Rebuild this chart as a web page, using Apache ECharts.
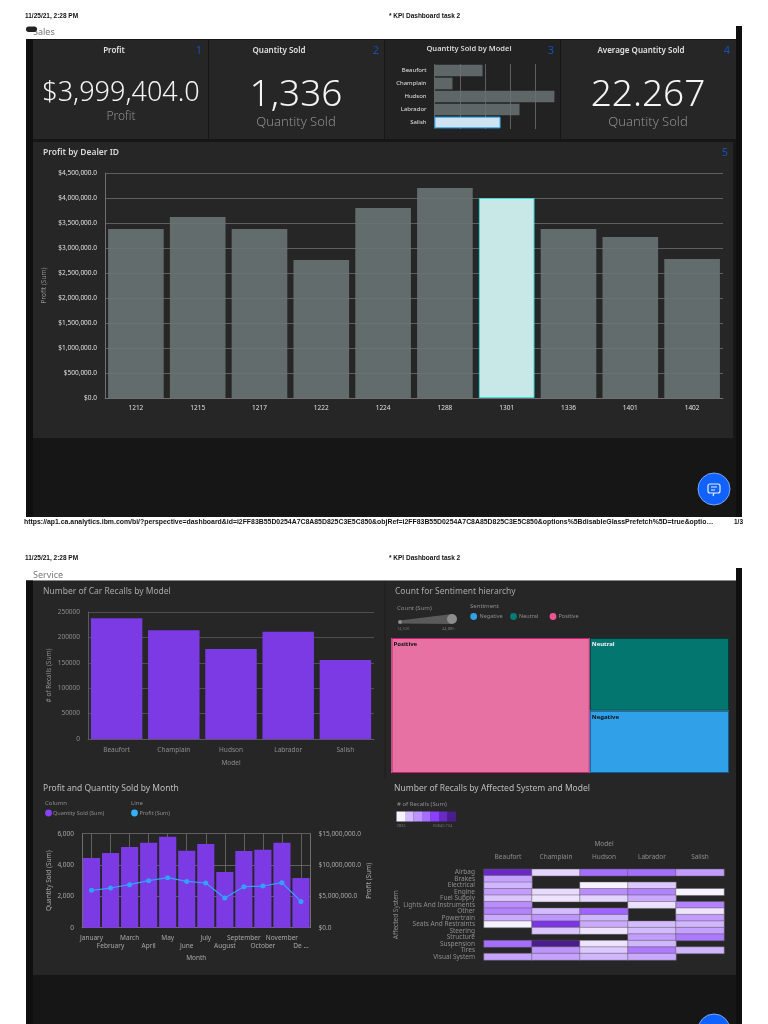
<!DOCTYPE html>
<html><head><meta charset="utf-8">
<style>html,body{margin:0;padding:0;background:#fff}#c{width:768px;height:1024px}</style>
<script src="https://cdn.jsdelivr.net/npm/echarts@6/dist/echarts.min.js"></script></head>
<body><div id="c"></div>
<script>
const models = ['Beaufort','Champlain','Hudson','Labrador','Salish'];
const qtyByModel = [190,71,474,336,261];
const dealers = ['1212','1215','1217','1222','1224','1288','1301','1336','1401','1402'];
const profitByDealer = [3380000,3620000,3380000,2760000,3800000,4200000,4000000,3380000,3220000,2780000];
const recallsByModel = [237600,214000,177000,211000,155500];
const months = ['January','February','March','April','May','June','July','August','September','October','November','De ...'];
const qtyByMonth = [4447,4766,5149,5426,5809,4915,5340,3553,4894,4979,5426,3170];
const profitByMonth = [5960000,6330000,6860000,7500000,7980000,7390000,7130000,4730000,6540000,6650000,7180000,4200000];
const sentiments = ['Negative','Neutral','Positive'];
const sentimentCounts = [14526,17000,44885];
const systems = ['Airbag','Brakes','Electrical','Engine','Fuel Supply','Lights And Instruments','Other','Powertrain','Seats And Restraints','Steering','Structure','Suspension','Tires','Visual System'];
const heatBeaufort  = [52500,24900,20800,26000,16800,29500,31800,23100,2832,null,null,36000,null,24900];
const heatChamplain = [13000,null,null,11100,7500,null,19400,27700,48000,16800,null,60840,27700,24900];
const heatHudson    = [36000,null,2832,29500,13000,null,37600,20800,23100,7500,null,7500,15600,20800];
const heatLabrador  = [36000,null,15600,31800,23100,9000,null,null,19400,19400,26000,20800,33600,23100];
const heatSalish    = [26000,null,null,2832,null,31800,7500,26000,20800,24900,33600,null,20800,null];
const heatColumns = [heatBeaufort,heatChamplain,heatHudson,heatLabrador,heatSalish];
const heatRamp = ['#f6f2ff','#e8daff','#d4bbff','#be95ff','#a56eff','#8a3ffc','#6929c4','#491d8b'];
const heatLegend = ['#f6f2ff','#d4bbff','#be95ff','#a56eff','#8a3ffc','#6929c4','#491d8b'];

const FONT = '"Noto Sans", sans-serif';
const PANEL = '#262626', DARK = '#161616', STRIP = '#0f0f0f', DIM = '#8d8d8d', LINE = '#5a5a5a';
const txt = (x,y,text,size,fill,opt={}) => ({type:'text',x,y,z:100,silent:true,rotation:opt.rot||0,style:{text,fontSize:size,fill,
  fontFamily:opt.font||FONT,fontWeight:opt.weight||'normal',align:opt.align||'left',verticalAlign:'middle'}});
const box = (x,y,w,h,fill,z=-3) => ({type:'rect',z,silent:true,shape:{x,y,width:w,height:h},style:{fill}});
const dot = (cx,cy,r,fill) => ({type:'circle',z:100,silent:true,shape:{cx,cy,r},style:{fill}});
const PRINT = '"Liberation Sans", sans-serif';
const URL_TXT = 'https://ap1.ca.analytics.ibm.com/bi/?perspective=dashboard&id=i2FF83B55D0254A7C8A85D825C3E5C850&objRef=i2FF83B55D0254A7C8A85D825C3E5C850&options%5BdisableGlassPrefetch%5D=true&optio…';
const fab = (cx,cy) => [
  {type:'circle',z:100,silent:true,shape:{cx,cy,r:16},style:{fill:'#0f62fe',stroke:'#7fa6f5',lineWidth:1}},
  {type:'rect',z:101,silent:true,shape:{x:cx-6,y:cy-5,width:12,height:9,r:2},style:{fill:'none',stroke:'#e8eefc',lineWidth:1.2}},
  {type:'line',z:101,silent:true,shape:{x1:cx-3,y1:cy-2,x2:cx+3,y2:cy-2},style:{stroke:'#e8eefc',lineWidth:1}},
  {type:'line',z:101,silent:true,shape:{x1:cx-3,y1:cy+1,x2:cx+1,y2:cy+1},style:{stroke:'#e8eefc',lineWidth:1}},
  {type:'line',z:101,silent:true,shape:{x1:cx,y1:cy+4,x2:cx-1,y2:cy+7},style:{stroke:'#e8eefc',lineWidth:1.2}}
];

const graphics = [
  box(26,39,710,478,DARK), box(26,39,7,478,STRIP), box(736,26,6,491,STRIP),
  box(33,40,175,99,PANEL,-2), box(209,40,175,99,PANEL,-2), box(385,40,175,99,'#222222',-2), box(561,40,175,99,PANEL,-2),
  box(33,142,700,296,PANEL,-2),
  box(26,580.5,710,444,DARK), box(26,580.5,7,444,STRIP), box(736,568,6,456,STRIP),
  box(33,581,703,394,PANEL,-2), box(384.5,581,1,197,'#1c1c1c',-1),
  txt(25,16.5,'11/25/21, 2:28 PM',6.5,'#111',{font:PRINT,weight:'bold'}),
  txt(389,16.5,'* KPI Dashboard task 2',6.5,'#111',{font:PRINT,weight:'bold'}),
  txt(25,558,'11/25/21, 2:28 PM',6.5,'#111',{font:PRINT,weight:'bold'}),
  txt(389,558,'* KPI Dashboard task 2',6.5,'#111',{font:PRINT,weight:'bold'}),
  txt(24,522.5,URL_TXT,6.9,'#111',{font:PRINT,weight:'bold'}),
  txt(734,522.5,'1/3',6.5,'#111',{font:PRINT,weight:'bold'}),
  txt(33,32.5,'Sales',9,'#777'),
  {type:'rect',z:101,silent:true,shape:{x:26,y:26.5,width:11,height:5.5,r:2.7},style:{fill:'#222'}},
  txt(33,575.5,'Service',9,'#777'),
  txt(114,51,'Profit',8,'#e0e0e0',{align:'center',weight:600}),
  txt(279,51,'Quantity Sold',8,'#e0e0e0',{align:'center',weight:600}),
  txt(469,49,'Quantity Sold by Model',7.5,'#d8d8d8',{align:'center',weight:600}),
  txt(641,51,'Average Quantity Sold',8,'#e0e0e0',{align:'center',weight:600}),
  txt(199,50.5,'1',11,'#1450b8',{align:'center'}), txt(376,50.5,'2',11,'#1450b8',{align:'center'}),
  txt(551,50.5,'3',11,'#1450b8',{align:'center'}), txt(727,50.5,'4',11,'#1450b8',{align:'center'}),
  txt(725,153,'5',11,'#1450b8',{align:'center'}),
  txt(121,93,'$3,999,404.0',27,'#f4f4f4',{align:'center',weight:300}),
  txt(121,117,'Profit',12,DIM,{align:'center',weight:300}),
  txt(296,95,'1,336',37,'#f4f4f4',{align:'center',weight:300}),
  txt(296,122,'Quantity Sold',13,DIM,{align:'center',weight:300}),
  txt(648,95,'22.267',37,'#f4f4f4',{align:'center',weight:300}),
  txt(648,122,'Quantity Sold',13,DIM,{align:'center',weight:300}),
  txt(43,153,'Profit by Dealer ID',8.5,'#d8d8d8',{weight:600}),
  txt(43,592,'Number of Car Recalls by Model',8.5,'#a8a8a8'),
  txt(395,592,'Count for Sentiment hierarchy',8.5,'#a8a8a8'),
  txt(43,789,'Profit and Quantity Sold by Month',8.5,'#bdbdbd'),
  txt(394,789,'Number of Recalls by Affected System and Model',8.5,'#bdbdbd'),
  txt(397,608,'Count (Sum)',6,DIM), txt(470,606.5,'Sentiment',6,DIM),
  {type:'polygon',z:100,silent:true,shape:{points:[[400,620.5],[452,614],[452,624],[400,623.5]]},style:{fill:'#5a5a5a'}},
  dot(400,622,2,'#8d8d8d'), dot(452,619,5,'#8d8d8d'),
  txt(397,628.5,'14,526',4,'#6f6f6f'), txt(442,628.5,'44,885',4,'#6f6f6f'),
  dot(473.7,616.5,3.4,'#33a1e8'), txt(479.5,616.5,sentiments[0],5.5,DIM),
  dot(513.5,616.5,3.4,'#007d79'), txt(519,616.5,sentiments[1],5.5,DIM),
  dot(553,616.5,3.4,'#ee5396'), txt(558.5,616.5,sentiments[2],5.5,DIM),
  txt(45,803.5,'Column',6,DIM), txt(131,803.5,'Line',6,DIM),
  dot(48.5,813,3.4,'#8a3ffc'), txt(53,813,'Quantity Sold (Sum)',5.5,DIM),
  dot(134.5,813,3.4,'#33b1ff'), txt(139.5,813,'Profit (Sum)',5.5,DIM),
  txt(397,804.5,'# of Recalls (Sum)',6,DIM),
  txt(396.5,826,'2832',4,'#6f6f6f'), txt(433,826,'60840.734',4,'#6f6f6f'),
  ...heatLegend.map((c,i)=>box(396.5+i*8.5,811.5,8.6,10,c,100)),
  ...fab(714,489), ...fab(714,1030)
];

const axisText = (c,size=6.5) => ({color:c,fontSize:size,fontFamily:FONT});
const nameText = {color:DIM,fontSize:6.5,fontFamily:FONT};
const heatData = [];
heatColumns.forEach((col,x)=>col.forEach((v,y)=>{ if(v!==null) heatData.push([x,y,v]); }));

const grids = [
  {left:434.5,top:64,width:126.5,height:65},
  {left:105,top:173,width:618,height:225},
  {left:88,top:612,width:286,height:127},
  {left:82,top:833.7,width:228.5,height:94},
  {left:484,top:869.3,width:240,height:90.7}
];
const option = {
  animation:false, backgroundColor:'#ffffff', textStyle:{fontFamily:FONT},
  graphic:{elements:graphics},
  grid:grids,
  xAxis:[
    {gridIndex:0,type:'value',min:0,max:500,interval:100,axisLabel:{show:false},axisLine:{show:false},axisTick:{show:false},
      splitLine:{show:true,showMaxLine:false,lineStyle:{color:'#6f6f6f',width:0.8}}},
    {gridIndex:1,type:'category',data:dealers,axisTick:{show:false},axisLine:{lineStyle:{color:'#6f6f6f'}},
      axisLabel:{...axisText('#e0e0e0',6.5),margin:7}},
    {gridIndex:2,type:'category',data:models,axisTick:{show:false},axisLine:{lineStyle:{color:LINE}},
      axisLabel:{...axisText(DIM),margin:8},name:'Model',nameLocation:'middle',nameGap:21,nameTextStyle:nameText},
    {gridIndex:3,type:'category',data:months,axisTick:{show:false},axisLine:{lineStyle:{color:'#6f6f6f'}},
      splitLine:{show:true,alignWithLabel:true,lineStyle:{color:'#6f6f6f',width:0.8}},
      axisLabel:{...axisText('#a8a8a8'),margin:6,interval:0,hideOverlap:false,formatter:(v,i)=>i%2?'\n'+v:v,lineHeight:8.5},
      name:'Month',nameLocation:'middle',nameGap:27,nameTextStyle:{...nameText,color:'#a8a8a8'}},
    {gridIndex:4,type:'category',data:models,position:'top',axisTick:{show:false},axisLine:{show:false},
      axisLabel:{...axisText(DIM),margin:9},name:'Model',nameLocation:'middle',nameGap:22,nameTextStyle:nameText}
  ],
  yAxis:[
    {gridIndex:0,type:'category',data:models,inverse:true,axisTick:{show:false},axisLine:{show:false},
      axisLabel:{...axisText('#e0e0e0',6),margin:8}},
    {gridIndex:1,type:'value',min:0,max:4500000,interval:500000,axisLine:{show:true,lineStyle:{color:'#6f6f6f'}},
      splitLine:{lineStyle:{color:'#6f6f6f',width:0.8}},
      axisLabel:{...axisText('#e0e0e0',6.5),margin:8,formatter:v=>'$'+v.toLocaleString('en-US')+'.0'},
      name:'Profit (Sum)',nameLocation:'middle',nameGap:50,nameTextStyle:nameText},
    {gridIndex:2,type:'value',min:0,max:250000,interval:50000,axisLine:{show:true,lineStyle:{color:LINE}},
      splitLine:{lineStyle:{color:LINE,width:0.8}},axisLabel:{...axisText(DIM),margin:8,formatter:v=>String(v)},
      name:'# of Recalls (Sum)',nameLocation:'middle',nameGap:35,nameTextStyle:nameText},
    {gridIndex:3,type:'value',min:0,max:6000,interval:2000,axisLine:{show:true,lineStyle:{color:'#6f6f6f'}},
      splitLine:{lineStyle:{color:'#6f6f6f',width:0.8}},
      axisLabel:{...axisText('#a8a8a8'),margin:8,formatter:v=>v.toLocaleString('en-US')},
      name:'Quantity Sold (Sum)',nameLocation:'middle',nameGap:29,nameTextStyle:{...nameText,color:'#a8a8a8'}},
    {gridIndex:3,type:'value',position:'right',min:0,max:15000000,interval:5000000,axisLine:{show:true,lineStyle:{color:'#6f6f6f'}},
      splitLine:{show:false},axisLabel:{...axisText('#a8a8a8'),margin:8,formatter:v=>'$'+v.toLocaleString('en-US')+'.0'},
      name:'Profit (Sum)',nameLocation:'middle',nameGap:55,nameTextStyle:{...nameText,color:'#a8a8a8'}},
    {gridIndex:4,type:'category',data:systems,inverse:true,axisTick:{show:false},axisLine:{show:false},
      axisLabel:{...axisText(DIM,6.5),margin:9,interval:0},
      name:'Affected System',nameLocation:'middle',nameGap:80,nameTextStyle:nameText}
  ],
  visualMap:[{type:'continuous',show:false,seriesIndex:5,min:2832,max:60840,dimension:2,inRange:{color:heatRamp}}],
  series:[
    {type:'bar',xAxisIndex:0,yAxisIndex:0,barWidth:'90%',itemStyle:{color:'rgba(105,114,116,0.85)'},
      data:qtyByModel.map((v,i)=>i===4?{value:v,itemStyle:{color:'#d0e2f0',borderColor:'#33b1ff',borderWidth:1}}:v),z:3},
    {type:'bar',xAxisIndex:1,yAxisIndex:1,barWidth:'90%',itemStyle:{color:'rgba(105,116,116,0.9)'},
      data:profitByDealer.map((v,i)=>i===6?{value:v,itemStyle:{color:'#c8e8e8',borderColor:'#3ddbd9',borderWidth:1}}:v)},
    {type:'bar',xAxisIndex:2,yAxisIndex:2,barWidth:'90%',itemStyle:{color:'#7c3ae4'},data:recallsByModel},
    {type:'bar',xAxisIndex:3,yAxisIndex:3,barWidth:'90%',itemStyle:{color:'#7c3ae4'},data:qtyByMonth},
    {type:'line',xAxisIndex:3,yAxisIndex:4,symbol:'circle',symbolSize:5,lineStyle:{color:'#33a1f8',width:1.2},
      itemStyle:{color:'#33a1f8'},data:profitByMonth,z:5},
    {type:'heatmap',xAxisIndex:4,yAxisIndex:5,data:heatData,itemStyle:{borderColor:'#5a5a5a',borderWidth:0.5}},
    {type:'treemap',left:391.5,top:638,width:337.5,height:135,roam:false,nodeClick:false,
      breadcrumb:{show:false},sort:'desc',
      itemStyle:{gapWidth:0,borderWidth:0},
      label:{show:true,position:'insideTopLeft',fontSize:6,fontWeight:'bold',fontFamily:FONT,padding:[2,0,0,1],formatter:'{b}'},
      data:[
        {name:sentiments[2],value:sentimentCounts[2],itemStyle:{color:'#e871a4',borderColor:'#c91f6c',borderWidth:1},label:{color:'#111'}},
        {name:sentiments[1],value:sentimentCounts[1],itemStyle:{color:'#02766f',borderColor:'#013f3d',borderWidth:1},label:{color:'#f4f4f4'}},
        {name:sentiments[0],value:sentimentCounts[0],itemStyle:{color:'#30a0e8',borderColor:'#0f5c99',borderWidth:1},label:{color:'#111'}}
      ]}
  ]
};
echarts.init(document.getElementById('c'),null,{renderer:'canvas'}).setOption(option);
</script></body></html>
